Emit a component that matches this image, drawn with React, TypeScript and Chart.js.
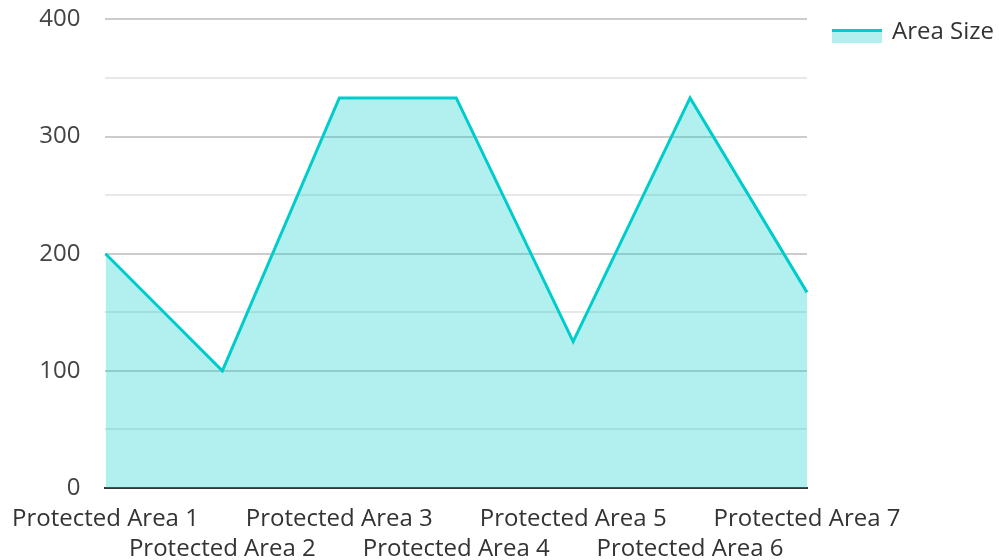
import React, { useEffect, useRef } from "react";
import { Chart, registerables } from "chart.js";

Chart.register(...registerables);

const categories = [
  "Protected Area 1",
  "Protected Area 2",
  "Protected Area 3",
  "Protected Area 4",
  "Protected Area 5",
  "Protected Area 6",
  "Protected Area 7",
];
const areaSize = [200, 100, 333, 333, 125, 333, 167];
const seriesName = "Area Size";
const yMin = 0;
const yMax = 400;
const yStep = 50;
const yLabelStep = 100;

const LINE = "#00CCCC";
const FILL = "rgba(0, 204, 204, 0.3)";
const FONT = "'Open Sans', 'Noto Sans', sans-serif";

const legendPlugin = {
  id: "customLegend",
  afterDraw(chart: any) {
    const ctx = chart.ctx;
    const ds = chart.data.datasets[0];
    const x = chart.chartArea.right + 25;
    const y = 32;
    ctx.save();
    ctx.fillStyle = "rgba(0, 204, 204, 0.3)";
    ctx.fillRect(x, y - 3, 50, 14);
    ctx.fillStyle = ds.borderColor;
    ctx.fillRect(x, y - 3, 50, 3);
    ctx.fillStyle = "#333";
    ctx.font = `24px ${FONT}`;
    ctx.textBaseline = "middle";
    ctx.textAlign = "left";
    ctx.fillText(ds.label, x + 60, y);
    ctx.restore();
  },
};

export default function App() {
  const ref = useRef<HTMLCanvasElement | null>(null);

  useEffect(() => {
    document.body.style.margin = "0";
    const canvas = ref.current;
    if (!canvas) return;
    const chart = new Chart(canvas, {
      type: "line",
      data: {
        labels: categories,
        datasets: [
          {
            label: seriesName,
            data: areaSize,
            borderColor: LINE,
            backgroundColor: FILL,
            borderWidth: 3,
            fill: "origin",
            pointRadius: 0,
            pointHoverRadius: 0,
            tension: 0,
          },
        ],
      },
      options: {
        animation: false,
        responsive: true,
        maintainAspectRatio: false,
        layout: { padding: { top: 0, left: 0, right: 192, bottom: -16 } },
        plugins: {
          tooltip: { enabled: false },
          legend: { display: false },
        },
        scales: {
          x: {
            offset: false,
            grid: {
              display: true,
              color: "rgba(0,0,0,0)",
              drawTicks: true,
              tickLength: 4,
              tickColor: "rgba(0,0,0,0)",
            },
            border: { display: true, color: "#333", width: 2 },
            ticks: {
              autoSkip: false,
              maxRotation: 0,
              minRotation: 0,
              padding: 12,
              color: "#333",
              font: { family: FONT, size: 24, lineHeight: 1.25 },
              callback: function (this: any, value: any, index: number) {
                const lbl = categories[index];
                return index % 2 === 0 ? [lbl] : ["", lbl];
              },
            },
          },
          y: {
            min: yMin,
            max: yMax,
            border: { display: false },
            grid: {
              drawTicks: true,
              tickLength: 20,
              tickColor: "rgba(0,0,0,0)",
              lineWidth: 2,
              color: (ctx: any) =>
                ctx.tick && ctx.tick.value % yLabelStep === 0
                  ? "rgba(0,0,0,0.2)"
                  : "rgba(0,0,0,0.09)",
            },
            ticks: {
              stepSize: yStep,
              padding: 5,
              color: "#444",
              font: { family: FONT, size: 24 },
              callback: (v: any) => (Number(v) % yLabelStep === 0 ? String(v) : ""),
            },
          },
        },
      },
      plugins: [legendPlugin],
    });
    return () => chart.destroy();
  }, []);

  return (
    <div style={{ width: 999, height: 560, position: "relative" }}>
      <canvas ref={ref} />
    </div>
  );
}
